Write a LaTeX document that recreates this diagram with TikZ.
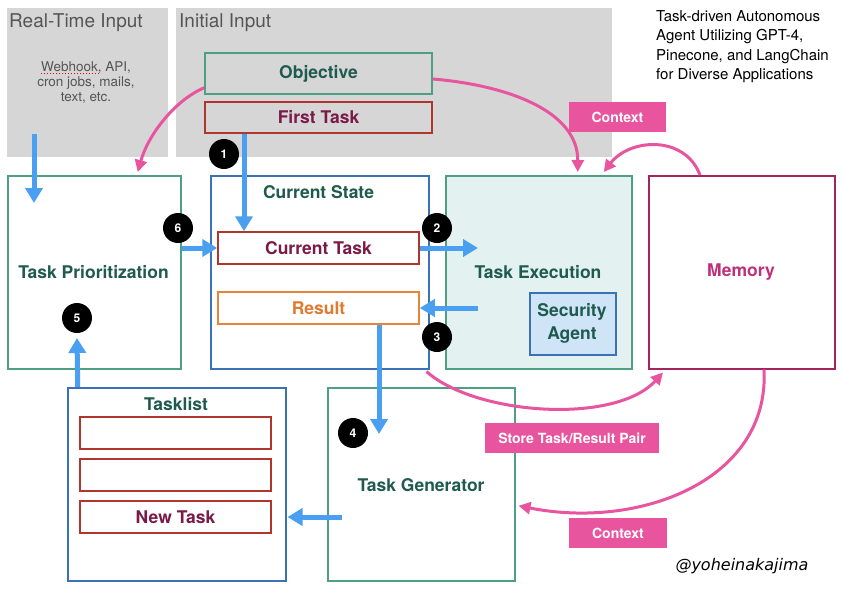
\documentclass[tikz,border=0pt]{standalone}
\usepackage{fontspec}
\setmainfont{TeX Gyre Heros}
\newfontfamily\handfont{DejaVu Sans}
\usetikzlibrary{arrows.meta}
\definecolor{grayfill}{HTML}{D6D6D6}
\definecolor{graytext}{HTML}{555555}
\definecolor{greenline}{HTML}{4E9F84}
\definecolor{tealtext}{HTML}{1F5A4E}
\definecolor{redline}{HTML}{B0352C}
\definecolor{redtext}{HTML}{7A1A48}
\definecolor{blueline}{HTML}{3B72B5}
\definecolor{orangeline}{HTML}{E8833A}
\definecolor{orangetext}{HTML}{E07A30}
\definecolor{execfill}{HTML}{E4F1F1}
\definecolor{secfill}{HTML}{CFE5F7}
\definecolor{memline}{HTML}{A3245E}
\definecolor{memtext}{HTML}{C0307A}
\definecolor{pinkc}{HTML}{E8559E}
\definecolor{arrowblue}{HTML}{4B9FF0}
\begin{document}
\begin{tikzpicture}[x=1pt,y=-1pt,
  every node/.style={inner sep=0pt},
  box/.style={draw, line width=1.5pt},
  grayzone/.style={fill=grayfill, anchor=north west},
  zonelbl/.style={anchor=west, text=graytext, font=\fontsize{19}{22}\selectfont},
  lbl/.style={text=tealtext, font=\fontsize{17.5}{21}\selectfont\bfseries},
  tasklbl/.style={text=redtext, font=\fontsize{17.5}{21}\selectfont\bfseries},
  redbox/.style={box, draw=redline, minimum width=#1, minimum height=31pt},
  bigbox/.style={box, anchor=north west, minimum width=#1, minimum height=193pt},
  numc/.style={circle, fill=black, text=white, minimum size=30pt, font=\fontsize{12}{12}\selectfont\bfseries},
  tagbox/.style={fill=pinkc, text=white, minimum height=30pt, font=\fontsize{14}{16}\selectfont\bfseries},
  barrow/.style={draw=arrowblue, line width=5pt, -{Triangle[length=15pt,width=17pt]}},
  parrow/.style={draw=pinkc, line width=3pt, -{Triangle[length=12pt,width=12pt]}}
]
\useasboundingbox[fill=white] (0,0) rectangle (844,600);

% gray zones
\node[grayzone, minimum width=161pt, minimum height=149pt] (rt) at (7,8) {};
\node[grayzone, minimum width=436pt, minimum height=149pt] (ii) at (176,8) {};
\node[zonelbl] (rtlbl) at (9,23) {Real-Time Input};
\node[zonelbl] (iilbl) at (179,23) {Initial Input};
\node[align=center, text=graytext, font=\fontsize{13.5}{15}\selectfont] (web) at (86,83) {Webhook, API,\\cron jobs, mails,\\text, etc.};
\draw[red, line width=1pt, dotted] (41,73) -- (99,73);

% initial input boxes
\node[box, draw=greenline, minimum width=227pt, minimum height=41pt, lbl] (obj) at (318.5,73.5) {Objective};
\node[redbox=227pt, tasklbl] (ft) at (318.5,117.5) {First Task};

% title
\node[anchor=north west, align=left, font=\fontsize{15}{19.6}\selectfont] (title) at (656,10) {Task-driven Autonomous\\Agent Utilizing GPT-4,\\Pinecone, and LangChain\\for Diverse Applications};

\node[tagbox, minimum width=97pt] (ctx1) at (617.5,117) {Context};

% middle row
\node[bigbox=173pt, draw=greenline] (tp) at (7,175) {};
\node[lbl] (tplbl) at (93.5,272) {Task Prioritization};
\node[bigbox=218pt, draw=blueline] (cs) at (210,175) {};
\node[lbl] (cslbl) at (318.5,192) {Current State};
\node[redbox=201pt, minimum height=32pt, tasklbl] (ct) at (318.5,248) {Current Task};
\node[box, draw=orangeline, minimum width=201pt, minimum height=32pt, text=orangetext, font=\fontsize{17.5}{21}\selectfont\bfseries] (res) at (318.5,308) {Result};
\node[bigbox=186pt, draw=greenline, fill=execfill] (te) at (445,175) {};
\node[lbl] (telbl) at (538,272) {Task Execution};
\node[box, draw=blueline, fill=secfill, anchor=north west, minimum width=86pt, minimum height=62pt] (sa) at (529,292) {};
\node[lbl, align=center, font=\fontsize{17.5}{23}\selectfont\bfseries] (salbl) at (572,323) {Security\\Agent};
\node[bigbox=186pt, draw=memline] (mem) at (648,175) {};
\node[text=memtext, font=\fontsize{17.5}{21}\selectfont\bfseries] (memlbl) at (741,272) {Memory};

% bottom row
\node[bigbox=218pt, draw=blueline] (tl) at (67,387) {};
\node[lbl] (tllbl) at (176,404) {Tasklist};
\node[redbox=191pt, minimum height=32pt] (t1) at (175.5,433) {};
\node[redbox=191pt, minimum height=32pt] (t2) at (175.5,475) {};
\node[redbox=191pt, minimum height=32pt, tasklbl] (t3) at (175.5,517) {New Task};
\node[bigbox=187pt, draw=greenline] (tg) at (327,387) {};
\node[lbl] (tglbl) at (421,485) {Task Generator};

\node[tagbox, minimum width=174pt] (store) at (572,438) {Store Task/Result Pair};
\node[tagbox, minimum width=98pt] (ctx2) at (618,533) {Context};
\node[font=\fontsize{16}{18}\selectfont\handfont\itshape] (handle) at (742,566) {@yoheinakajima};

% free ends
\coordinate (rtstart) at (34,134);
\coordinate (tpin) at (34,203);
\coordinate (texin) at (478,248);
\coordinate (texout) at (478,308);
\coordinate (tgin) at (379,434);
\coordinate (tgout) at (342,517);
\coordinate (tpup) at (77,338);

% blue arrows
\draw[barrow] (rtstart) -- (tpin);
\draw[barrow] ([xshift=-74.5pt]ft.south) -- ([xshift=-74.5pt]ct.north);
\draw[barrow] (tp.east |- ct.west) -- (ct.west);
\draw[barrow] (ct.east) -- (texin);
\draw[barrow] (texout) -- (res.east);
\draw[barrow] ([xshift=60.5pt]res.south) -- (tgin);
\draw[barrow] (tgout) -- ([xshift=1pt]tl.east |- t3.east);
\draw[barrow] ([xshift=-99pt]tl.north) -- (tpup);

% pink arrows
\draw[parrow] ([yshift=7pt]obj.south west) .. controls (175,100) and (148,135) .. ([xshift=43.5pt,yshift=3pt]tp.north);
\draw[parrow] ([yshift=-5.5pt]obj.east) .. controls (505,85) and (578,110) .. ([xshift=39pt,yshift=3pt]te.north);
\draw[parrow] ([xshift=52pt]mem.north west) .. controls (685,135) and (630,138) .. ([xshift=65pt,yshift=3pt]te.north);
\draw[parrow] ([xshift=-3pt,yshift=-2pt]cs.south east) .. controls (475,415) and (615,425) .. ([xshift=15pt,yshift=-3pt]mem.south west);
\draw[parrow] ([xshift=116pt]mem.south west) .. controls (770,480) and (640,530) .. ([xshift=3pt,yshift=-21.5pt]tg.east);

% numbered circles
\node[numc] (n1) at (224,154) {1};
\node[numc] (n6) at (178,228) {6};
\node[numc] (n5) at (77,318) {5};
\node[numc] (n2) at (437,228) {2};
\node[numc] (n3) at (437,337) {3};
\node[numc] (n4) at (353,433) {4};
\end{tikzpicture}
\end{document}
